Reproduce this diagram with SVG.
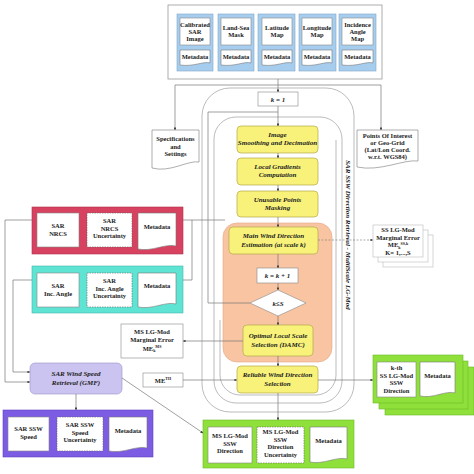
<svg xmlns="http://www.w3.org/2000/svg" width="474" height="474" viewBox="0 0 474 474">
<defs>
<style>
text{font-family:"Liberation Serif",serif;font-weight:bold;fill:#222;text-anchor:middle}
.t{font-size:6.5px}
.y{font-size:7px;font-style:italic}
.wb{fill:#fff;stroke:#888;stroke-width:0.6}
.db{fill:#fff;stroke:#666;stroke-width:0.6;stroke-dasharray:1.5 1}
.doc{fill:#fff;stroke:#777;stroke-width:0.6}
.yel{fill:#f8f27a;stroke:#b3ab4a;stroke-width:0.7}
.fr{fill:none;stroke:#aaa;stroke-width:0.8}
.ln{fill:none;stroke:#777;stroke-width:0.7}
.dl{fill:none;stroke:#888;stroke-width:0.7;stroke-dasharray:2 1.5}
</style>
<marker id="a" viewBox="0 0 6 6" refX="5.5" refY="3" markerWidth="4" markerHeight="4" orient="auto"><path d="M0,0 L6,3 L0,6 Z" fill="#444"/></marker>
</defs>
<rect width="474" height="474" fill="#fff"/>

<!-- frames -->
<g id="frames">
<rect class="fr" x="202" y="88" width="152" height="324" rx="28"/>
<rect class="fr" x="214" y="117" width="128" height="286" rx="22"/>
<path class="fr" d="M220,320V375A20,20 0 0 0 240,395H316A20,20 0 0 0 336,375V140"/>
</g>
<text class="y" font-size="6.5" transform="translate(346,235) rotate(90)">SAR SSW Direction Retrieval - MultiScale LG-Mod</text>

<!-- top input box -->
<g id="inputs">
<rect x="168" y="5" width="214" height="74" fill="#fff" stroke="#999" stroke-width="0.8"/>
<g fill="#a7cdee" stroke="#7fa6c8" stroke-width="0.6">
<rect x="177" y="14" width="36" height="57"/><rect x="218" y="14" width="36" height="57"/><rect x="258" y="14" width="37" height="57"/><rect x="299" y="14" width="37" height="57"/><rect x="339" y="14" width="37" height="57"/>
</g>
<rect class="wb" x="180" y="18" width="30" height="27"/><rect class="wb" x="221" y="18" width="30" height="27"/><rect class="wb" x="262" y="18" width="30" height="27"/><rect class="wb" x="302" y="18" width="30" height="27"/><rect class="wb" x="342" y="18" width="31" height="27"/>
<path class="doc" d="M180,50H210V63C203,61 194,67 180,65Z"/>
<path class="doc" d="M221,50H251V63C244,61 235,67 221,65Z"/>
<path class="doc" d="M262,50H292V63C285,61 276,67 262,65Z"/>
<path class="doc" d="M302,50H332V63C325,61 316,67 302,65Z"/>
<path class="doc" d="M342,50H373V63C366,61 357,67 342,65Z"/>
<text class="t" font-size="6"><tspan x="195" y="27">Calibrated</tspan><tspan x="195" y="34">SAR</tspan><tspan x="195" y="41">Image</tspan></text>
<text class="t" font-size="6"><tspan x="236" y="30">Land-Sea</tspan><tspan x="236" y="37">Mask</tspan></text>
<text class="t" font-size="6"><tspan x="277" y="30">Latitude</tspan><tspan x="277" y="37">Map</tspan></text>
<text class="t" font-size="6"><tspan x="317" y="30">Longitude</tspan><tspan x="317" y="37">Map</tspan></text>
<text class="t" font-size="6"><tspan x="357.5" y="27">Incidence</tspan><tspan x="357.5" y="34">Angle</tspan><tspan x="357.5" y="41">Map</tspan></text>
<g class="t" font-size="5.5"><text x="195" y="59">Metadata</text><text x="236" y="59">Metadata</text><text x="277" y="59">Metadata</text><text x="317" y="59">Metadata</text><text x="357.5" y="59">Metadata</text></g>
</g>

<g id="specs">
<path class="doc" d="M152,130H199V162C188,160 170,173 152,168Z"/>
<text class="t"><tspan x="175.5" y="141">Specifications</tspan><tspan x="175.5" y="148.5">and</tspan><tspan x="175.5" y="156">Settings</tspan></text>
</g>
<g id="poi">
<path class="doc" d="M357,130H418V161C404,159 380,172 357,167Z"/>
<text class="t"><tspan x="387.5" y="137.5">Points Of Interest</tspan><tspan x="387.5" y="144.5">or Geo-Grid</tspan><tspan x="387.5" y="151.5">(Lat/Lon Coord.</tspan><tspan x="387.5" y="158.5">w.r.t. WGS84)</tspan></text>
</g>

<!-- process -->
<g id="k1"><rect class="wb" x="258" y="92" width="40" height="14"/><text class="y" x="278" y="101.5">k = 1</text></g>
<g id="smooth"><rect class="yel" x="237" y="126" width="81" height="27" rx="4"/><text class="y"><tspan x="277.5" y="137">Image</tspan><tspan x="277.5" y="145">Smoothing and Decimation</tspan></text></g>
<g id="grad"><rect class="yel" x="237" y="158" width="81" height="27" rx="4"/><text class="y"><tspan x="277.5" y="169">Local Gradients</tspan><tspan x="277.5" y="177">Computation</tspan></text></g>
<g id="mask"><rect class="yel" x="237" y="191" width="81" height="26" rx="4"/><text class="y"><tspan x="277.5" y="202">Unusable Points</tspan><tspan x="277.5" y="210">Masking</tspan></text></g>
<g id="orange"><rect x="223" y="223" width="109" height="139" rx="14" fill="#f9c4a2" stroke="#e0a888" stroke-width="0.6"/></g>
<g id="main"><rect class="yel" x="229" y="227" width="89" height="27" rx="4"/><text class="y"><tspan x="273.5" y="238">Main Wind Direction</tspan><tspan x="273.5" y="246.5">Estimation (at scale k)</tspan></text></g>
<g id="kk"><rect class="wb" x="257" y="268" width="41" height="15"/><text class="y" x="277.5" y="278">k = k + 1</text></g>
<g id="dia"><path d="M278,290 L306,303 L278,316 L250,303 Z" fill="#fff" stroke="#888" stroke-width="0.6"/><text class="y" x="278" y="305.5">k≤S</text></g>
<g id="damc"><rect class="yel" x="243" y="325" width="70" height="31" rx="4"/><text class="y"><tspan x="278" y="338">Optimal Local Scale</tspan><tspan x="278" y="347">Selection (DAMC)</tspan></text></g>
<g id="rel"><rect class="yel" x="237" y="366" width="81" height="27" rx="4"/><text class="y"><tspan x="277.5" y="377">Reliable Wind Direction</tspan><tspan x="277.5" y="386">Selection</tspan></text></g>

<!-- NRCS -->
<g id="nrcs">
<rect x="32" y="207" width="151" height="47" fill="#d6425f" stroke="#b03050" stroke-width="0.6"/>
<rect class="wb" x="37" y="213" width="42" height="34"/><rect class="db" x="87" y="213" width="45" height="34"/>
<path class="doc" d="M138,213H176V246C166,243 152,252 138,249Z"/>
<text class="t"><tspan x="58" y="228">SAR</tspan><tspan x="58" y="235.5">NRCS</tspan></text>
<text class="t"><tspan x="109.5" y="223">SAR</tspan><tspan x="109.5" y="230.5">NRCS</tspan><tspan x="109.5" y="238">Uncertainty</tspan></text>
<text class="t" x="157" y="229">Metadata</text>
</g>
<g id="inc">
<rect x="32" y="266" width="151" height="47" fill="#5fe3d3" stroke="#40b8aa" stroke-width="0.6"/>
<rect class="wb" x="37" y="273" width="42" height="34"/><rect class="db" x="87" y="273" width="45" height="34"/>
<path class="doc" d="M138,273H176V304C166,301 152,310 138,307Z"/>
<text class="t"><tspan x="58" y="288">SAR</tspan><tspan x="58" y="295.5">Inc. Angle</tspan></text>
<text class="t"><tspan x="109.5" y="283">SAR</tspan><tspan x="109.5" y="290.5">Inc. Angle</tspan><tspan x="109.5" y="298">Uncertainty</tspan></text>
<text class="t" x="157" y="288">Metadata</text>
</g>

<g id="msme"><rect class="wb" x="121" y="324" width="62" height="34"/><text class="t"><tspan x="152" y="334">MS LG-Mod</tspan><tspan x="152" y="342">Marginal Error</tspan><tspan x="152" y="350.5">ME<tspan font-size="4" dy="1.5">k</tspan><tspan font-size="4" dy="-4">MS</tspan></tspan></text></g>
<g id="meth"><rect class="wb" x="143" y="373" width="40" height="14"/><text class="t" x="163" y="382.5">ME<tspan font-size="4" dy="-2.5">TH</tspan></text></g>

<g id="gmf"><rect x="30" y="363" width="92" height="31" rx="5" fill="#cbc4f0" stroke="#9a90c8" stroke-width="0.6"/><text class="y"><tspan x="76" y="376">SAR Wind Speed</tspan><tspan x="76" y="385">Retrieval (GMF)</tspan></text></g>

<g id="speed">
<rect x="3" y="410" width="150" height="47" fill="#7c5ce3" stroke="#5f44c0" stroke-width="0.6"/>
<rect class="wb" x="8" y="417" width="41" height="34"/><rect class="db" x="57" y="417" width="46" height="34"/>
<path class="doc" d="M109,417H147V448C137,445 123,454 109,451Z"/>
<text class="t"><tspan x="28.5" y="431">SAR SSW</tspan><tspan x="28.5" y="438.5">Speed</tspan></text>
<text class="t"><tspan x="80" y="427">SAR SSW</tspan><tspan x="80" y="434.5">Speed</tspan><tspan x="80" y="442">Uncertainty</tspan></text>
<text class="t" x="128" y="433">Metadata</text>
</g>

<g id="msdir">
<rect x="203" y="420" width="151" height="48" fill="#8fe03a" stroke="#6cb828" stroke-width="0.6"/>
<rect class="wb" x="208" y="427" width="44" height="36"/><rect class="db" x="257" y="427" width="47" height="36"/>
<path class="doc" d="M310,427H347V459C337,456 323,465 310,462Z"/>
<text class="t"><tspan x="230" y="438">MS LG-Mod</tspan><tspan x="230" y="445.5">SSW</tspan><tspan x="230" y="453">Direction</tspan></text>
<text class="t"><tspan x="280.5" y="434">MS LG-Mod</tspan><tspan x="280.5" y="441.5">SSW</tspan><tspan x="280.5" y="449">Direction</tspan><tspan x="280.5" y="456.5">Uncertainty</tspan></text>
<text class="t" x="328.5" y="443">Metadata</text>
</g>

<g id="ssme">
<rect x="383" y="235" width="50" height="32" fill="#fff" stroke="#bbb" stroke-width="0.6"/>
<rect x="378" y="230" width="50" height="32" fill="#fff" stroke="#bbb" stroke-width="0.6"/>
<rect x="373" y="225" width="50" height="32" fill="#fff" stroke="#bbb" stroke-width="0.6"/>
<text class="t"><tspan x="398" y="232">SS LG-Mod</tspan><tspan x="398" y="239.5">Marginal Error</tspan><tspan x="398" y="247">ME<tspan font-size="4" dy="1.5">k</tspan><tspan font-size="4" dy="-4">SS,k</tspan></tspan><tspan x="398" y="254.5">K= 1,...,S</tspan></text>
</g>

<g id="ssdir">
<rect x="385" y="367" width="89" height="48" fill="#8fe03a" stroke="#6cb828" stroke-width="0.6"/>
<rect x="379" y="361" width="89" height="48" fill="#8fe03a" stroke="#6cb828" stroke-width="0.6"/>
<rect x="373" y="355" width="90" height="48" fill="#8fe03a" stroke="#6cb828" stroke-width="0.6"/>
<rect class="wb" x="377" y="362" width="39" height="35"/>
<path class="doc" d="M420,362H455V393C446,390 433,399 420,396Z"/>
<text class="t"><tspan x="396.5" y="370">k-th</tspan><tspan x="396.5" y="377.5">SS LG-Mod</tspan><tspan x="396.5" y="385">SSW</tspan><tspan x="396.5" y="392.5">Direction</tspan></text>
<text class="t" x="437.5" y="378">Metadata</text>
</g>

<!-- connectors -->
<g id="connectors">
<path class="ln" d="M278,79V92" marker-end="url(#a)"/>
<path class="ln" d="M175,85H381"/>
<path class="ln" d="M175,85V130" marker-end="url(#a)"/>
<path class="ln" d="M381,85V130" marker-end="url(#a)"/>
<path class="ln" d="M278,106V126" marker-end="url(#a)"/>
<path class="ln" d="M278,153V158" marker-end="url(#a)"/>
<path class="ln" d="M278,185V191" marker-end="url(#a)"/>
<path class="ln" d="M278,217V227" marker-end="url(#a)"/>
<path class="ln" d="M278,254V268" marker-end="url(#a)"/>
<path class="ln" d="M278,283V290" marker-end="url(#a)"/>
<path class="ln" d="M278,316V325" marker-end="url(#a)"/>
<path class="ln" d="M278,356V366" marker-end="url(#a)"/>
<path class="ln" d="M278,393V420" marker-end="url(#a)"/>
<path class="ln" d="M250,303H208V112H278"/>
<path class="dl" d="M318,240H373" marker-end="url(#a)"/>
<path class="ln" d="M183,220H225"/>
<path class="ln" d="M183,280H192V220"/>
<path class="ln" d="M32,220H5V382H30" marker-end="url(#a)"/>
<path class="ln" d="M32,280H13V372H30" marker-end="url(#a)"/>
<path class="ln" d="M243,341H183" marker-end="url(#a)"/>
<path class="ln" d="M183,380H237" marker-end="url(#a)"/>
<path class="ln" d="M318,380H373" marker-end="url(#a)"/>
<path class="ln" d="M76,394V410" marker-end="url(#a)"/>
<path class="ln" d="M122,378L203,433" marker-end="url(#a)"/>
</g>
</svg>
